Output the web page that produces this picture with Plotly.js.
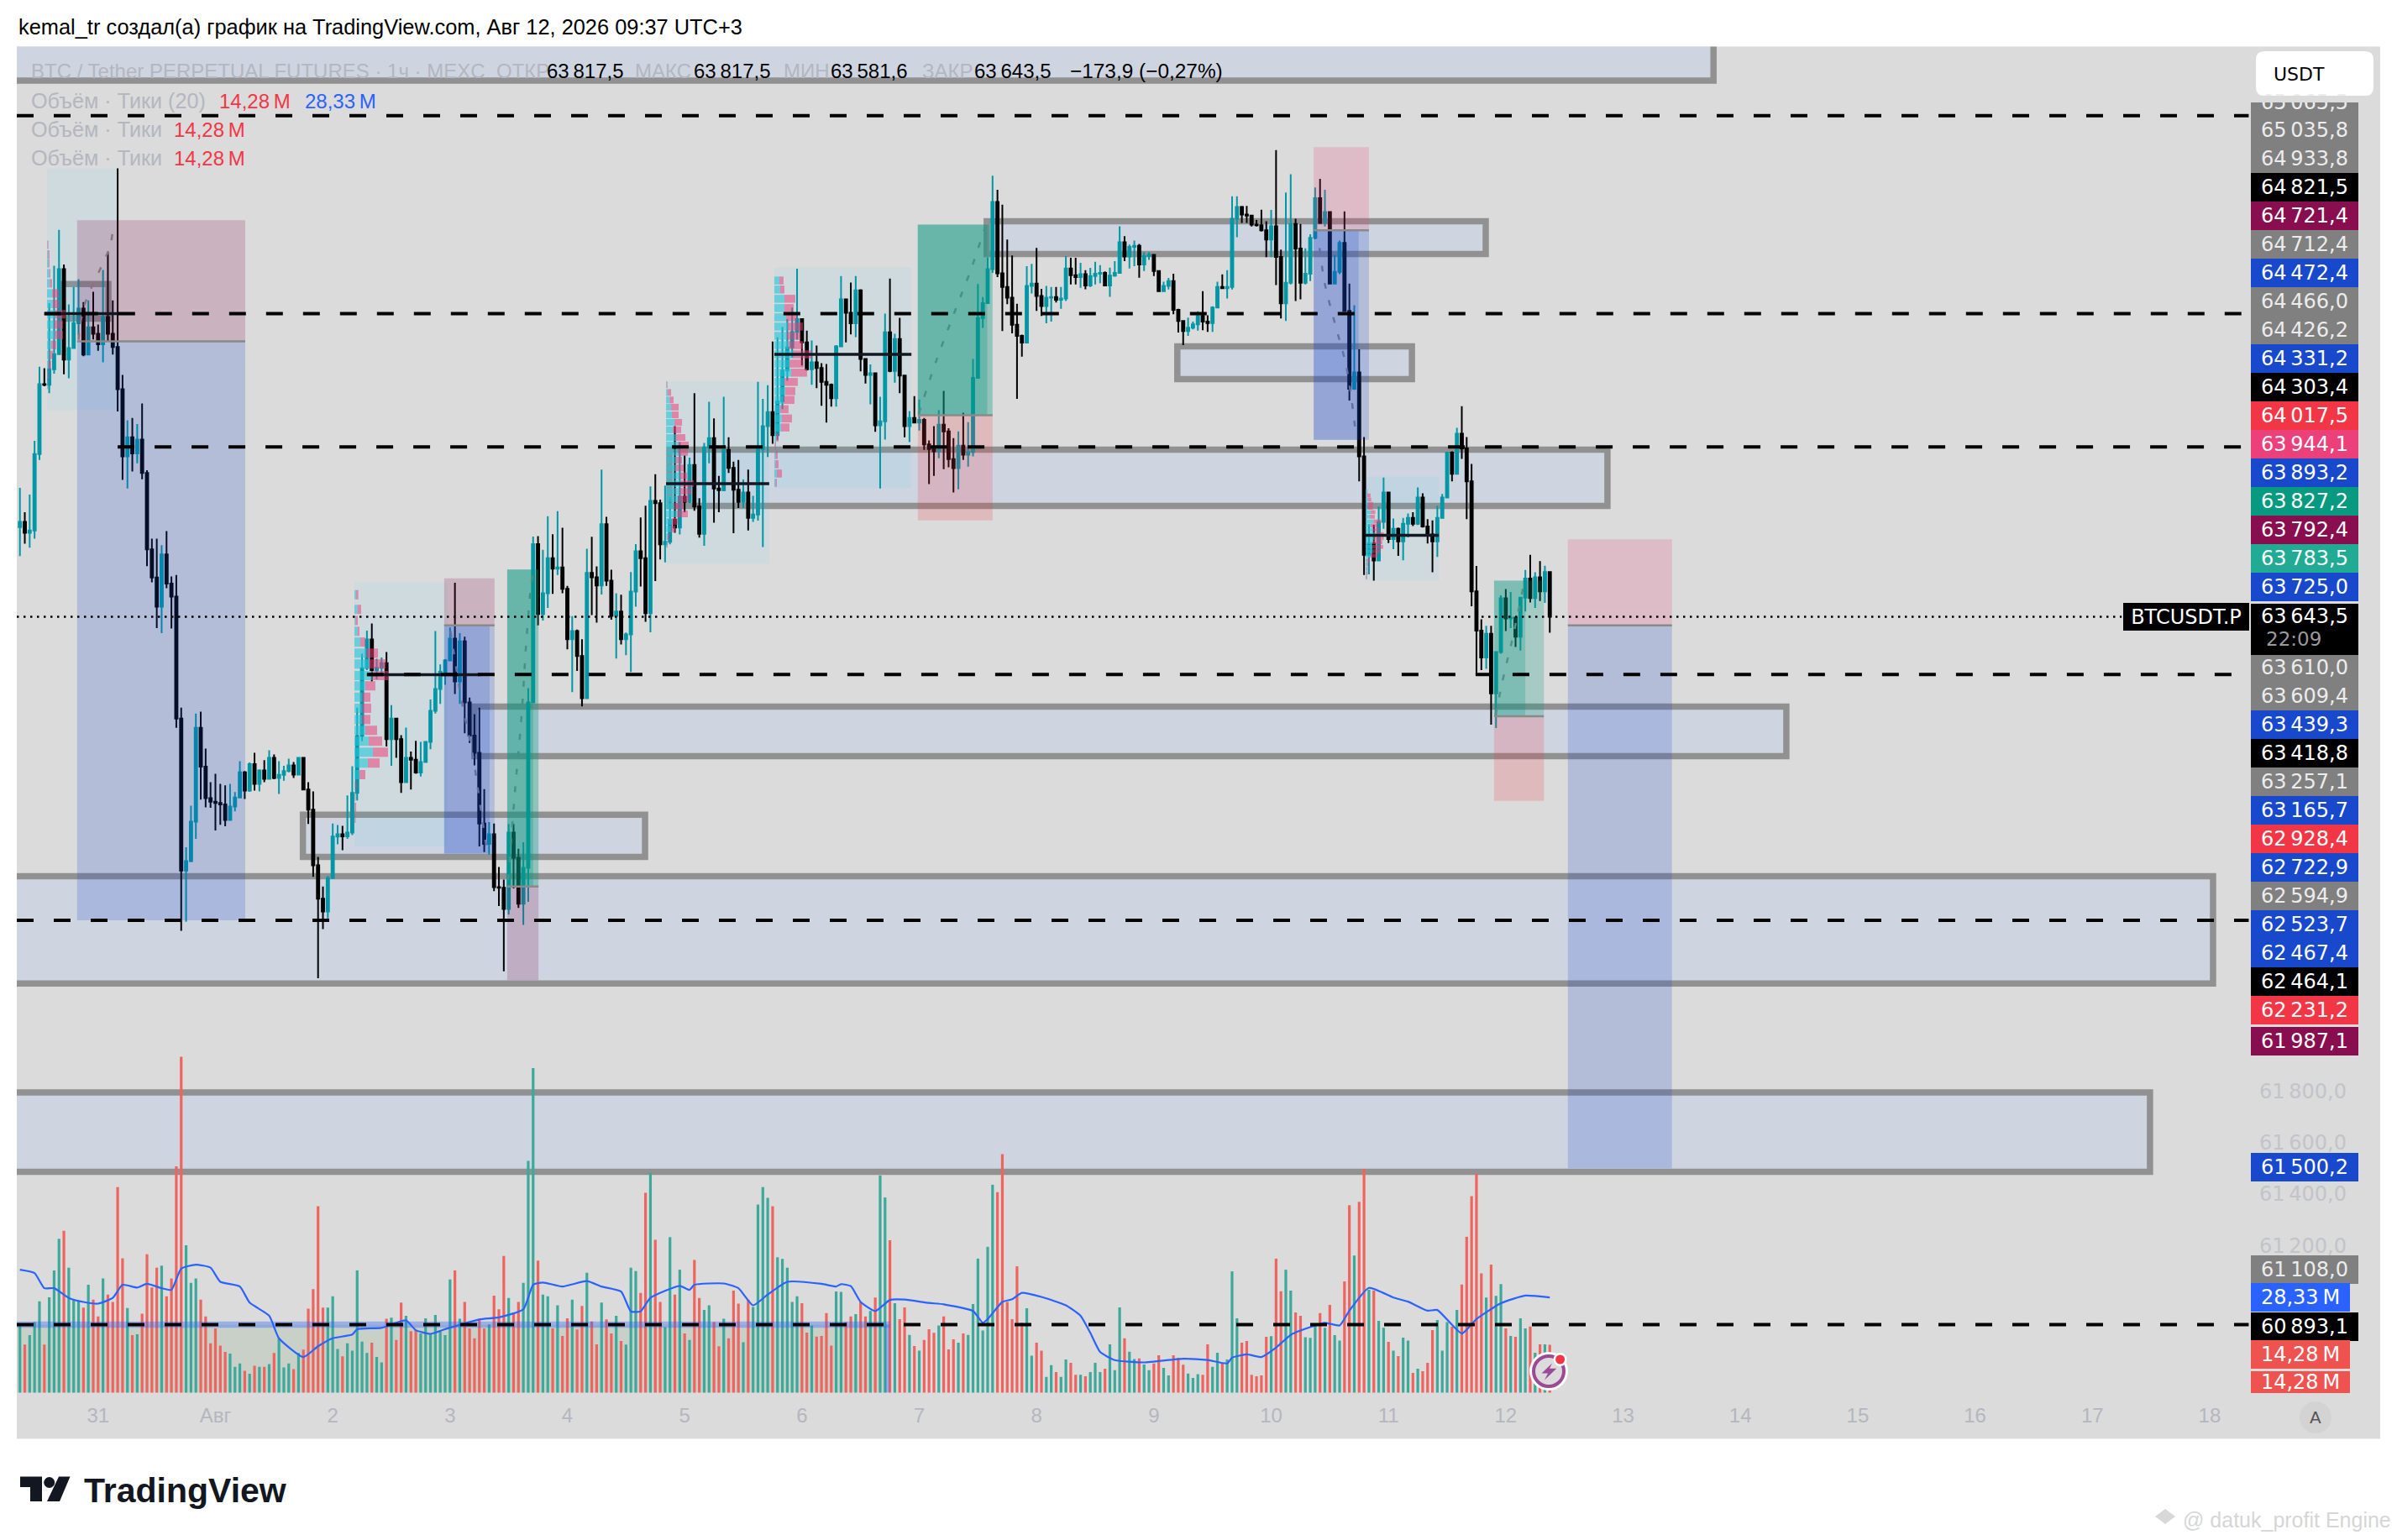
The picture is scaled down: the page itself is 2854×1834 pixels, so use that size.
<!DOCTYPE html>
<html>
<head>
<meta charset="utf-8">
<script src="https://cdn.plot.ly/plotly-3.0.1.min.js"></script>
<style>html,body{margin:0;padding:0;background:#fff}#chart{width:2854px;height:1834px}</style>
</head>
<body>
<div id="chart"></div>
<script>
// ---------- candles, one per hour ----------
const candleClose = [64012,63970,63979,64276,64547,64545,64605,64664,64994,64643,64688,64784,64841,64662,64768,64743,64702,64808,64743,64692,
64528,64267,64341,64278,64332,64202,63905,63796,63683,63886,63772,63722,63248,62657,62694,62847,63212,63061,62939,62925,
62920,62914,62854,62906,62941,63039,62968,63071,62994,63046,63014,63095,63017,63029,63044,63066,63030,63095,62972,62894,
62678,62548,62498,62628,62789,62798,62790,62805,62959,63180,63444,63555,63436,63445,63463,63168,63248,63168,63001,63095,
63088,63038,63079,63157,63278,63363,63430,63474,63559,63392,63548,63311,63182,63115,62840,62761,62798,62593,62590,62508,
62805,62707,62528,62668,63311,63926,63654,63735,63871,63830,63835,63752,63556,63588,63491,63327,63814,63797,63765,64003,
63784,63647,63664,63556,63575,63741,63898,63871,63657,64094,64085,63925,63935,64020,63990,64110,64090,64233,64072,63966,
64302,64338,64142,64135,64292,64222,64137,64090,64126,64028,64041,64295,64384,64439,64349,64480,64600,64690,64750,64800,
64710,64605,64632,64610,64556,64545,64493,64694,64877,64825,64784,64912,64645,64583,64590,64387,64403,64749,64599,64723,
64581,64384,64416,64398,64409,64313,64295,64286,64390,64364,64256,64221,64308,64273,64284,64572,64804,64862,64994,65255,
64978,64925,64883,64778,64735,64709,64929,64938,64890,64851,64883,64886,64875,64880,64997,64971,64963,64975,64931,64967,
64976,64980,64931,64969,64980,65099,65043,65081,65085,65012,65045,65050,64987,64909,64929,64948,64836,64793,64754,64767,
64780,64812,64790,64785,64845,64925,64920,64925,65190,65236,65206,65202,65167,65165,65145,65109,65161,65042,64861,64941,
65170,65074,64941,64976,65116,65270,65174,65216,64938,64984,65096,64832,64529,64593,64267,63884,63928,63862,64012,64126,
63945,63985,63936,64005,64028,64005,64107,63994,63963,63936,64028,64107,64281,64199,64355,64298,64170,63742,63590,63485,
63577,63346,63506,63715,63637,63640,63566,63718,63792,63716,63797,63742,63817.5,63643.5];
const candleOpen = [63992, ...candleClose.slice(0, -1)];
const candleHigh = [64144,64050,64118,64327,64615,64609,64862,65007,65147,65012,64857,64925,64955,64866,64873,64906,64779,64991,65061,64873,
65386,64583,64407,64416,64392,64472,64213,63947,63947,63922,63976,63800,63806,63290,62748,62909,63267,63275,63131,63001,
63033,62994,62988,62994,62962,63082,63044,63077,63115,63050,63086,63125,63108,63082,63064,63092,63079,63095,63095,63001,
62965,62710,62595,62636,62840,62834,62831,62949,63063,63290,63500,63590,63617,63480,63485,63506,63300,63248,63183,63213,
63120,63161,63157,63157,63322,63588,63458,63479,63602,63776,63580,63566,63329,63265,63290,62974,62846,62840,62671,62622,
62838,62838,62742,62767,63366,63955,63957,63904,64034,63964,64054,63989,63763,63646,63594,63556,63908,63954,63839,64215,
64032,63826,63735,63729,63582,63817,63926,64029,64075,64150,64197,64099,64153,64108,64384,64322,64270,64262,64512,64104,
64319,64479,64414,64191,64498,64341,64246,64253,64177,64215,64113,64556,64490,64543,64713,64730,64770,64800,64845,64996,
64800,64755,64717,64697,64629,64626,64550,64699,64967,64877,64942,64967,64916,64645,64624,64590,64498,64821,64958,64743,
64805,64583,64443,64501,64488,64416,64329,64384,64446,64521,64376,64338,64364,64436,64400,64645,64936,64886,65040,65357,
65303,65245,65109,65047,64860,64740,65006,65015,65077,64918,64929,64925,64925,64925,65045,65038,65038,65019,64990,64999,
65023,65010,64985,65000,65025,65161,65122,65090,65105,65092,65060,65060,65050,64987,64945,64960,64976,64840,64795,64806,
64790,64830,64909,64815,64850,64945,64974,64990,65277,65277,65240,65240,65205,65185,65225,65180,65224,65457,65070,65292,
65363,65190,65170,65075,65130,65312,65345,65303,65216,65050,65105,65219,64938,64854,64683,64342,64003,64001,64072,64184,
64126,64025,63990,64028,64045,64050,64146,64123,64023,64018,64075,64121,64281,64286,64378,64462,64342,64237,63841,63634,
63608,63608,63506,63727,63751,63740,63640,63718,63825,63884,63816,63860,63842,63817.5];
const candleLow = [63879,63927,63912,63947,64253,64539,64512,64588,64662,64586,64570,64686,64737,64656,64659,64721,64677,64632,64713,64662,
64441,64175,64142,64208,64240,64178,63840,63777,63599,63580,63754,63598,63212,62423,62458,62690,62780,62933,62903,62901,
62813,62835,62829,62854,62887,62939,62935,62963,62968,62965,63001,63014,63012,62955,63006,63039,63017,63030,62972,62838,
62633,62239,62430,62468,62626,62759,62736,62780,62795,62930,63160,63436,63392,63400,63420,63139,63064,63095,62959,63001,
62972,63033,63023,63079,63129,63267,63305,63379,63474,63343,63305,63191,63153,63066,62751,62729,62718,62577,62519,62266,
62486,62588,62512,62446,62536,63311,63610,63629,63678,63732,63806,63735,63517,63351,63433,63295,63327,63650,63621,63730,
63763,63632,63481,63536,63494,63429,63683,63761,63624,63583,63782,63866,63855,63925,63970,63963,64050,64085,64055,63951,
63919,64240,64009,64050,64131,64202,63968,64066,64066,63979,64012,64017,63914,64264,64316,64330,64450,64560,64650,64720,
64620,64600,64545,64532,64463,64398,64460,64460,64692,64710,64741,64730,64597,64550,64469,64362,64142,64332,64594,64553,
64512,64341,64322,64398,64367,64292,64159,64191,64259,64217,64224,64126,64139,64253,64227,64267,64570,64766,64860,64980,
64963,64754,64858,64745,64490,64654,64709,64900,64832,64812,64784,64790,64865,64840,64870,64935,64935,64922,64916,64925,
64935,64940,64930,64887,64965,64978,65025,64997,65006,64961,64987,65030,64967,64909,64905,64915,64819,64748,64699,64735,
64760,64755,64757,64750,64750,64845,64920,64880,64915,65118,65174,65174,65160,65160,65140,65041,65041,64932,64803,64793,
64935,64870,64877,64935,64948,65110,65170,65160,64935,64935,64975,64830,64484,64525,64170,63806,63808,63784,63860,63985,
63930,63906,63880,63863,63952,63996,64000,63990,63928,63816,63876,64025,64105,64170,64199,64257,64023,63684,63419,63436,
63441,63224,63211,63500,63588,63599,63526,63512,63664,63699,63678,63705,63697,63581.6];

// ---------- volume (millions) ----------
const volumeM = [20,14.3,17.1,21,27.2,14.3,28.4,36.4,45.8,48.2,
37.2,27.7,27.3,25.3,32.1,27.7,22.7,34,29.2,27,
61.2,40,25.2,17.1,17.4,23.5,41.2,31.3,37.2,37.8,
28.7,34,67.4,100,43.9,32.7,34,27.7,22.7,14.7,
19.1,14,12.1,11.6,7.7,8.7,6.5,5.6,8,7.7,
7.7,8.5,11.8,16.2,7.5,8.7,7,11.8,12.8,25,
30.8,55.5,25.3,25.3,28.7,13,10.8,14.7,12.5,36.4,
15.2,11.8,14.9,10.6,9,22,22.3,15.7,26.8,22.9,
18.3,18.6,17.6,22.1,17.6,23.1,18.1,17.1,33.7,36.4,
22,27,19.1,16.2,22,19.1,20.3,28.9,24.8,40.7,
28.2,23.9,27,32.7,69,96.6,39.3,29.2,28.7,19.1,
26,16.9,22.1,27.7,18.8,25.8,35.7,21.2,14.4,26.8,
21.8,17.6,22.9,15.4,14.3,37.2,36.2,29.7,59.5,65.5,
45.5,27,19.5,46.3,29.2,36.6,17.6,15.7,39.5,28.2,
24.6,26,21,13.8,22,16.2,30.4,26.5,15,27.7,
25.5,56,61.2,58,55.5,40.3,39.8,37.2,27,28.7,
26.6,17.9,20,16.7,16.9,23.7,14,30.1,
30,21,22.7,23.4,27,22.7,24.3,28.3,64.7,58.1,
45.4,26.6,21.9,25.4,17.2,13.9,12.5,15.7,18.9,17.8,
20,22.7,12.9,15.9,14.9,17.6,17.2,26.4,39.9,18.5,
43.4,61.9,59.7,71,27,21.9,37.6,20.8,25.1,11,
14.9,12.5,4.7,8.2,6.1,4.7,9.9,8.9,5.3,5.3,
4.9,6.1,8.9,6.1,7.1,14.4,6.7,25.4,16.2,12.2,
10,10.2,8.4,6.7,8.7,11.1,7.4,5.1,11.1,10.4,
8.3,5.7,4.4,5.5,5.3,14.4,7.7,11.9,8.7,9.9,
36.1,22.1,14.9,15.4,5.3,4.9,5.1,16.6,16.8,39.9,
30.2,36.6,30.4,23.9,22.9,16.5,16.3,20.2,23.7,19.3,
26.1,17.1,15.5,33.1,55.8,40.8,56.8,66.6,30.6,30.4,
21.4,19.3,15.1,12.5,10.9,16.4,15.5,5.9,7.1,6.4,
8.9,18.6,21.6,12.5,21,19.6,24.6,32.2,46.4,58.5,
65.1,35.5,28.3,38.1,28.8,32.3,19.1,16.9,16.6,22.1,
19.1,19.7,11.9,14.4,14.4,14.28];

// ---------- volume moving average, sampled where the line bends ----------
const maHour = [0,3,5,7,10,13,16,19,21,24,26,29,31,33,36,39,41,45,47,51,53,58,61,64,68,69,74,79,81,84,87,94,98,103,105,107,111,116,119,123,125,127,129,135,137,138,144,147,150,153,157,164,167,
168,170,172,175,178,181,186,189,195,197,198,201,203,205,209,214,217,219,221,224,230,238,243,247,248,251,254,257,260,262,267,270,272,276,281,284,288,290,295,298,303,308,313];
const maValue = [36.6,35.6,31.1,31.1,28.2,27,26.5,28.2,32.1,31.3,32.4,31.1,30.6,36.9,38.1,37.2,33,31.6,26.8,22.9,16.2,10.6,13.8,16.2,17.3,18.9,19.3,21.5,18.6,17.5,18.9,21.8,22.4,24.8,32.1,32.8,31.6,33.2,31.6,30.1,24.2,24.2,28.2,31.8,30.6,32.1,32.5,31.1,26,29.2,33,32.4,31.6,
32.3,31.7,27,24.3,27.6,27.7,26.7,26.3,24.3,20.8,21.9,27,27.8,29.7,28.5,26,22.9,17.8,12.1,9.7,9,10.1,9.7,8.7,10.4,11.4,10.6,13.4,17.2,18.5,20.8,20,24.4,31.2,28.3,27.1,24.4,24.6,17.6,21.9,26.6,28.9,28.33];

// ---------- axis text ----------
const dayTickHour = [16,40,64,88,112,136,160,184,208,232,256,280,304,328,352,376,400,424,448];
const dayTickText = ['31','Авг','2','3','4','5','6','7','8','9','10','11','12','13','14','15','16','17','18'];
const priceTickValue = [61800,61600,61400,61200,61000];

// ---------- right-hand price tags ----------
const topTagPrice = 65065.5;
const tagPrice = [65035.8,64933.8,64821.5,64721.4,64712.4,64472.4,64466.0,64426.2,64331.2,64303.4,64017.5,63944.1,63893.2,63827.2,63792.4,63783.5,63725.0,63610.0,63609.4,63439.3,63418.8,63257.1,63165.7,62928.4,62722.9,62594.9,62523.7,62467.4,62464.1,62231.2,61987.1,61500.2,61108.0,60893.1];
const tagColor = ['#808080','#808080','#000000','#880e4f','#808080','#1848cc','#808080','#808080','#1848cc','#000000','#f23645','#ec407a','#1848cc','#089981','#880e4f','#22ab94','#1848cc','#808080','#808080','#1848cc','#000000','#808080','#1848cc','#f23645','#1848cc','#808080','#1848cc','#1848cc','#000000','#f23645','#880e4f','#1848cc','#808080','#000000'];
const tagRow = [155,189,223,257,291,325,359,393,427,461,495,529,563,597,631,665,699,795,829,863,897,931,965,999,1033,1067,1101,1135,1169,1203,1240,1389.5,1511.5,1579.5];

// ---------- supply/demand zones: [hour start, hour end, price top, price bottom] ----------
const zoneBoxes = [[8.3,18.1,64936,64802],[-5,346.5,65905,65727],[197.8,299.9,65180,65053],[236.8,284.8,64694,64567],[132.9,324.8,64293,64074],[57.9,127.9,62874,62710],[93,361.4,63294,63102],[-5,448.7,62635,62218],[-5,435.8,61795,61487]];

// ---------- long/short position tools: [hour start, hour end, price top, price bottom, colour, alpha] ----------
const positionBoxes = [
 [11.7,46.1,65184,64714,'136,14,79',.2],[11.7,46.1,64714,62464,'24,72,204',.2],
 [86.8,97.1,63792.4,63610,'136,14,79',.2],[86.8,97.1,63610,62722.9,'24,72,204',.2],[86.8,96.1,63610,62722.9,'24,72,204',.2],
 [99.7,106.1,63827.2,62594.9,'8,153,129',.35],[99.7,105,63827.2,62594.9,'8,153,129',.3],[99.7,106.1,62594.9,62231.2,'136,14,79',.2],
 [183.7,199,65167,64426.2,'8,153,129',.35],[183.7,197.9,65167,64426.2,'8,153,129',.3],[183.7,199,64426.2,64017.5,'242,54,69',.2],
 [264.7,276,65468,65145,'236,64,122',.2],[264.7,276,65145,64331.2,'24,72,204',.2],[264.7,273.9,65145,64331.2,'24,72,204',.2],
 [301.6,311.8,63783.5,63257.1,'8,153,129',.25],[301.6,308,63783.5,63257.1,'8,153,129',.25],[301.6,311.8,63257.1,62928.4,'242,54,69',.2],
 [316.7,338,63944.1,63610,'236,64,122',.2],[316.7,338,63610,61500.2,'24,72,204',.2]];
const positionEntries = [[11.7,46.1,64714],[86.8,97.1,63610],[99.7,106.1,62594.9],[183.7,199,64426.2],[264.7,276,65145],[301.6,311.8,63257.1],[316.7,338,63610]];

// ---------- horizontal dashed levels: [hour start, hour end, price] ----------
const dashedLevels = [[-0.64,456,65591],[5,454.5,64821.5],[20,454.4,64303.4],[71,452.5,63418.8],[-0.64,456,62464.1],[-0.64,456,60893.1]];
const lastPrice = 63643.5;

// ---------- fixed range volume profiles ----------
const profileBoxes = [[5.55,20,65386,64446],[68.44,87.5,63777,62750],[132.2,153.3,64557,63849],[154.35,182.4,65001,64143],[275.3,290.3,64188,63784]];
const profilePoc = [[5,20,64821],[71,94.2,63418],[132.2,153.3,64161],[154.35,182.4,64663],[275.3,290.3,63960]];
const profileStart = [5.55,68.44,132.2,154.35,275.3];
const profileThick = [33,36,26,31,15];
const profilePrice = [
 [65089,65051,65017,64978,64939,64900,64859,64819,64779,64739,64700,64661,64622,64583,64545],
 [63729,63672,63629,63587,63545,63502,63460,63415,63375,63331,63288,63244,63202,63160,63117,63075,63030,62988,62946,62903,62860],
 [64545,64515,64486,64458,64428,64399,64370,64340,64311,64282,64252,64222,64191,64161,64131,64102,64073,64043,64014,63985,63955,63925],
 [64950,64915,64879,64843,64807,64771,64735,64699,64663,64627,64592,64556,64520,64486,64450,64414,64379,64340,64308,64272,64236,64200,64164],
 [64131,64115,64099,64082,64067,64050,64032,64014,63998,63981,63964,63949,63933,63915,63898,63881,63863,63847,63830,63813,63797]];
const profileUp = [
 [.11,.23,.29,.46,.57,1.03,1.15,1.55,1.43,1.55,.86,.46,.29,.2,.2],
 [.34,.63,.23,.63,1.2,2.41,2.98,3.67,2.23,1.6,1.6,1.55,2.23,2.92,3.78,2.75,1.03,.2,.1,.06,.06],
 [.11,.34,.74,1.03,1.2,1.72,1.37,2.06,2.41,2.41,2.06,2.06,2.75,2.92,2.75,2.41,1.72,2.23,1.2,1.03,.34,.17],
 [1.03,1.2,2.06,2.06,2.41,2.75,2.58,2.92,3.78,3.09,3.44,2.06,2.23,1.89,1.2,1.55,1.37,.34,.11,.23,.23,.52,.23],
 [.3,.3,.43,.55,.43,1.1,.92,1.66,1.04,1.53,2.02,1.78,1.53,1.53,1.53,1.04,.3,.25,.2,.2,.15]];
const profileDown = [
 [.17,.29,.23,.23,.46,1.37,1.37,2.23,1.83,1.72,1.03,.74,.57,.25,.1],
 [.46,.74,.46,.4,1.03,2.41,3.44,3.32,2.06,1.66,1.83,1.72,2.41,2.75,3.09,2.41,1.2,.3,.15,.3,.2],
 [.17,.69,.8,1.55,1.37,1.55,1.72,1.89,2.23,2.06,1.2,1.55,1.55,2.75,2.41,2.23,1.89,2.23,1.2,.86,.34,.17],
 [.86,.86,2.23,1.89,2.23,3.09,2.75,2.92,3.95,2.92,3.26,2.75,2.06,2.23,1.72,2.06,1.72,.52,.23,.46,.63,1.03,.29],
 [.1,.74,.74,.98,1.1,.92,.98,1.53,1.35,1.35,1.72,1.96,1.9,2.09,1.53,1.35,.6,.3,.25,.25,.2]];

// ---------- dashed path drawings inside the position tools ----------
const pathHours = [[12,13.1,18.4,18.9],[88.1,90.4,92.7,94.4,95.6],[99.9,101.3,102.6,103.6,104.5,105],[183.9,187.5,191.3,194.6,197.3],[265.9,267,269.1,271.4,273.4],[301.9,303.7,305.2,306.8,307.6]];
const pathPrices = [[64720,64848,65081,65131],[63588,63316,63099,62881,62729],[62620,62969,63251,63545,63752,63822],[64433,64639,64831,64994,65148],[65076,64936,64779,64613,64342],[63262,63425,63544,63686,63762]];

// ---------- texts ----------
const headerText = 'kemal_tr создал(а) график на TradingView.com, Авг 12, 2026 09:37 UTC+3';
const volumeText = '14,28\u2009M', maText = '28,33\u2009M';

// ---------- page geometry ----------
const W = 2854, H = 1834;
const fx = p => p / W, fy = p => 1 - p / H;
const LATIN = '"Liberation Sans", Arial, sans-serif', TAG = '"DejaVu Sans", sans-serif';
const fmtPrice = v => { const s = v.toFixed(1).replace('.', ','); return s.slice(0, 2) + '\u2009' + s.slice(2); };

const annotations = [];
const addText = (x, y, text, o = {}) => annotations.push({
  xref: 'paper', yref: 'paper', x: fx(x), y: fy(y), text, showarrow: false,
  xanchor: o.anchor || 'left', yanchor: 'middle', align: o.align || 'left',
  font: {family: o.family || LATIN, size: o.size || 24, color: o.color || '#000'},
  ...(o.bg ? {bgcolor: o.bg, width: o.w, height: o.h, borderpad: 0, borderwidth: 0} : {})
});

// ---------- shapes ----------
const shapes = [];
const rectPx = (x0, y0, x1, y1, fill, extra = {}) => shapes.push({type: 'rect', xref: 'paper', yref: 'paper', x0: fx(x0), x1: fx(x1), y0: fy(y0), y1: fy(y1), fillcolor: fill, line: {width: 0}, layer: 'above', ...extra});
const pathPx = (pts, fill) => shapes.push({type: 'path', xref: 'paper', yref: 'paper', path: 'M' + pts.map(p => fx(p[0]) + ',' + fy(p[1])).join('L') + 'Z', fillcolor: fill, line: {width: 0}, layer: 'above'});
const circlePx = (cx, cy, r, fill, line) => shapes.push({type: 'circle', xref: 'paper', yref: 'paper', x0: fx(cx - r), x1: fx(cx + r), y0: fy(cy + r), y1: fy(cy - r), fillcolor: fill, line: line || {width: 0}, layer: 'above'});

zoneBoxes.forEach(b => shapes.push({type: 'rect', xref: 'x', yref: 'y', x0: b[0], x1: b[1], y0: b[3], y1: b[2], fillcolor: '#ced5e0', line: {color: '#919191', width: 7.5}, layer: 'below'}));
profileBoxes.forEach(b => shapes.push({type: 'rect', xref: 'x', yref: 'y', x0: b[0], x1: b[1], y0: b[3], y1: b[2], fillcolor: 'rgba(0,200,255,.06)', line: {width: 0}, layer: 'below'}));
// tinted band behind the volume pane: fill, top edge, right edge
shapes.push({type: 'rect', xref: 'x', yref: 'y', x0: -5, x1: 177.5, y0: 60629, y1: 60893, fillcolor: 'rgba(76,140,80,.13)', line: {width: 0}, layer: 'below'});
shapes.push({type: 'line', xref: 'x', yref: 'y', x0: -5, x1: 178, y0: 60893, y1: 60893, line: {color: 'rgba(41,98,255,.35)', width: 7.5}, layer: 'above'});
shapes.push({type: 'line', xref: 'x', yref: 'y', x0: 177.5, x1: 177.5, y0: 60629, y1: 60893, line: {color: 'rgba(41,98,255,.35)', width: 5}, layer: 'above'});
positionBoxes.forEach(b => shapes.push({type: 'rect', xref: 'x', yref: 'y', x0: b[0], x1: b[1], y0: b[3], y1: b[2], fillcolor: `rgba(${b[4]},${b[5]})`, line: {width: 0}, layer: 'above'}));
positionEntries.forEach(b => shapes.push({type: 'line', xref: 'x', yref: 'y', x0: b[0], x1: b[1], y0: b[2], y1: b[2], line: {color: '#8a8a8a', width: 2.5}, layer: 'above'}));
profilePoc.forEach(b => shapes.push({type: 'line', xref: 'x', yref: 'y', x0: b[0], x1: b[1], y0: b[2], y1: b[2], line: {color: '#131722', width: 3.5}, layer: 'above'}));
dashedLevels.forEach(b => shapes.push({type: 'line', xref: 'x', yref: 'y', x0: b[0], x1: b[1], y0: b[2], y1: b[2], line: {color: '#000', width: 4, dash: '20px,24px'}, layer: 'above'}));
shapes.push({type: 'line', xref: 'x', yref: 'y', x0: -0.64, x1: 430, y0: lastPrice, y1: lastPrice, line: {color: '#000', width: 2.5, dash: '2.5px,5.5px'}, layer: 'above'});

// USDT button with rounded corners
{
  const x0 = 2686, x1 = 2826, y0 = 61, y1 = 114, r = 10, a = p => fx(p), b = p => fy(p);
  shapes.push({type: 'path', xref: 'paper', yref: 'paper', layer: 'above', fillcolor: '#fff', line: {width: 0},
    path: `M${a(x0 + r)},${b(y0)}L${a(x1 - r)},${b(y0)}Q${a(x1)},${b(y0)} ${a(x1)},${b(y0 + r)}L${a(x1)},${b(y1 - r)}Q${a(x1)},${b(y1)} ${a(x1 - r)},${b(y1)}L${a(x0 + r)},${b(y1)}Q${a(x0)},${b(y1)} ${a(x0)},${b(y1 - r)}L${a(x0)},${b(y0 + r)}Q${a(x0)},${b(y0)} ${a(x0 + r)},${b(y0)}Z`});
}
// lower part of the topmost, cut-off price tag
rectPx(2680, 122, 2808, 138, '#808080');
// lightning badge
circlePx(1844, 1633, 23, '#ffffff');
circlePx(1844, 1633, 18, '#dbdbdb', {color: '#9c4a96', width: 4});
pathPx([[1848, 1623.6], [1835.5, 1635.5], [1843, 1635.5], [1839, 1643.4], [1853.3, 1629.7], [1845, 1629.7]], '#9c4a96');
circlePx(1857.6, 1619, 8, '#ffffff');
circlePx(1857.6, 1619, 5.5, '#f23645');
// "auto" button
circlePx(2757, 1688, 19, '#d3d3d3');
// TradingView mark
pathPx([[24, 1758.5], [50, 1758.5], [50, 1788], [36, 1788], [36, 1771], [24, 1771]], '#131722');
circlePx(58.7, 1765.5, 6.5, '#131722');
pathPx([[70, 1758.5], [83.5, 1758.5], [71, 1788], [56, 1788]], '#131722');
// watermark icon
pathPx([[2578, 1797], [2590, 1806], [2578, 1815], [2566, 1806]], '#d8d8d8');

// ---------- text ----------
addText(20, 32, headerText, {size: 25.4});
const GR = '#b4b6c0';
addText(35, 85, 'BTC / Tether PERPETUAL FUTURES · 1ч · MEXC  ОТКР', {color: GR});
addText(649, 85, '63\u2009817,5'); addText(754, 85, 'МАКС', {color: GR});
addText(824, 85, '63\u2009817,5'); addText(931, 85, 'МИН', {color: GR});
addText(987, 85, '63\u2009581,6'); addText(1096, 85, 'ЗАКР', {color: GR});
addText(1158, 85, '63\u2009643,5'); addText(1272, 85, '−173,9 (−0,27%)', {size: 24.4});
addText(35, 120, 'Объём · Тики (20)', {color: GR, size: 25.2});
addText(259, 120, volumeText, {color: '#f23645'}); addText(361, 120, maText, {color: '#2962ff'});
addText(35, 154, 'Объём · Тики', {color: GR, size: 25.2}); addText(205, 154, volumeText, {color: '#f23645'});
addText(35, 188, 'Объём · Тики', {color: GR, size: 25.2}); addText(205, 188, volumeText, {color: '#f23645'});

addText(2744, 121.5, fmtPrice(topTagPrice), {family: TAG, size: 24, color: '#ececec', anchor: 'center', align: 'center'});
addText(2744, 118, ' ', {size: 6, anchor: 'center', align: 'center', bg: '#dbdbdb', w: 128, h: 8});
tagPrice.forEach((v, i) => addText(2744, tagRow[i], fmtPrice(v), {
  family: TAG, size: 24, color: tagColor[i] === '#808080' ? '#ececec' : '#fff', anchor: 'center', align: 'center', bg: tagColor[i], w: 128, h: 33.6}));
addText(2705, 88, 'USDT', {family: TAG, size: 22});
addText(2744, 749, ' ', {family: TAG, size: 24, anchor: 'center', align: 'center', bg: '#000', w: 128, h: 61});
addText(2744, 734, fmtPrice(lastPrice), {family: TAG, size: 24, color: '#fff', anchor: 'center', align: 'center'});
addText(2696, 761, '22:09', {family: TAG, size: 23, color: '#9a9a9a'});
addText(2603, 734.5, 'BTCUSDT.P', {family: TAG, size: 24, color: '#fff', anchor: 'center', align: 'center', bg: '#000', w: 150, h: 33});
addText(2739, 1544.5, maText, {family: TAG, size: 24, color: '#fff', anchor: 'center', align: 'center', bg: '#2962ff', w: 118, h: 33.6});
addText(2739, 1612.5, volumeText, {family: TAG, size: 24, color: '#fff', anchor: 'center', align: 'center', bg: '#ef5350', w: 118, h: 33.6});
addText(2739, 1646, volumeText, {family: TAG, size: 24, color: '#fff', anchor: 'center', align: 'center', bg: '#ef5350', w: 118, h: 26});
addText(2757, 1688, 'A', {family: TAG, size: 20, color: '#555', anchor: 'center', align: 'center'});
addText(98, 1775, '<b>TradingView</b>', {size: 41, color: '#131722'});
addText(2597, 1810, '@ datuk_profit Engine', {size: 25, color: '#d6d6d6'});

// ---------- traces ----------
const hours = candleClose.map((_, i) => i);
const traces = [];
traces.push({type: 'candlestick', x: hours, open: candleOpen, high: candleHigh, low: candleLow, close: candleClose, xaxis: 'x', yaxis: 'y',
  increasing: {line: {color: '#0097a7', width: 2}, fillcolor: '#0097a7'},
  decreasing: {line: {color: '#000000', width: 2}, fillcolor: '#000000'},
  hoverinfo: 'skip', showlegend: false});
pathHours.forEach((xs, i) => traces.push({type: 'scatter', mode: 'lines', x: xs, y: pathPrices[i], xaxis: 'x', yaxis: 'y', line: {color: '#8c8c8c', width: 2.5, dash: '7px,14px', shape: 'spline'}, hoverinfo: 'skip', showlegend: false}));
traces.push({type: 'bar', x: hours, y: volumeM, xaxis: 'x', yaxis: 'y2', width: .55,
  marker: {color: candleClose.map((c, i) => c >= candleOpen[i] ? '#3ca99b' : '#ef645e'), line: {width: 0}}, hoverinfo: 'skip', showlegend: false});
traces.push({type: 'scatter', mode: 'lines', x: maHour, y: maValue, xaxis: 'x', yaxis: 'y2', line: {color: '#2962ff', width: 2.2, shape: 'spline', smoothing: .5}, hoverinfo: 'skip', showlegend: false});
// profiles sit on their own overlay so that they cover the candles, as in the reference
profileStart.forEach((left, i) => {
  traces.push({type: 'bar', orientation: 'h', xaxis: 'x', yaxis: 'y3', y: profilePrice[i], x: profileUp[i], base: profilePrice[i].map(() => left), width: profileThick[i], marker: {color: 'rgba(38,198,218,.6)', line: {width: 0}}, hoverinfo: 'skip', showlegend: false});
  traces.push({type: 'bar', orientation: 'h', xaxis: 'x', yaxis: 'y3', y: profilePrice[i], x: profileDown[i], base: profilePrice[i].map((_, j) => left + profileUp[i][j]), width: profileThick[i], marker: {color: 'rgba(236,64,122,.55)', line: {width: 0}}, hoverinfo: 'skip', showlegend: false});
});

const layout = {
  width: W, height: H, autosize: false, margin: {l: 0, r: 0, t: 0, b: 0, pad: 0},
  paper_bgcolor: '#ffffff', plot_bgcolor: '#dbdbdb', showlegend: false, barmode: 'overlay', boxgap: .3,
  xaxis: {domain: [fx(20), fx(2834)], range: [-0.636, 482.9], anchor: 'y', showgrid: false, zeroline: false, showline: false, ticks: '', rangeslider: {visible: false},
    tickmode: 'array', tickvals: dayTickHour, ticktext: dayTickText, ticklabelposition: 'inside', ticklabelstandoff: 12,
    tickfont: {family: LATIN, size: 24, color: '#b4b6c0'}},
  yaxis: {domain: [fy(1713.5), fy(55.5)], range: [60449, 65859], side: 'right', anchor: 'x', showgrid: false, zeroline: false, showline: false, ticks: '',
    tickmode: 'array', tickvals: priceTickValue, ticktext: priceTickValue.map(fmtPrice), ticklabelposition: 'inside', ticklabelstandoff: 37,
    tickfont: {family: TAG, size: 24, color: '#c2c4ca'}},
  yaxis2: {overlaying: 'y', side: 'left', range: [-13.75, 400.75], visible: false, showgrid: false, zeroline: false},
  yaxis3: {overlaying: 'y', side: 'left', range: [60449, 65859], visible: false, showgrid: false, zeroline: false},
  shapes, annotations
};
Plotly.newPlot('chart', traces, layout, {displayModeBar: false, staticPlot: true});
</script>
</body>
</html>
